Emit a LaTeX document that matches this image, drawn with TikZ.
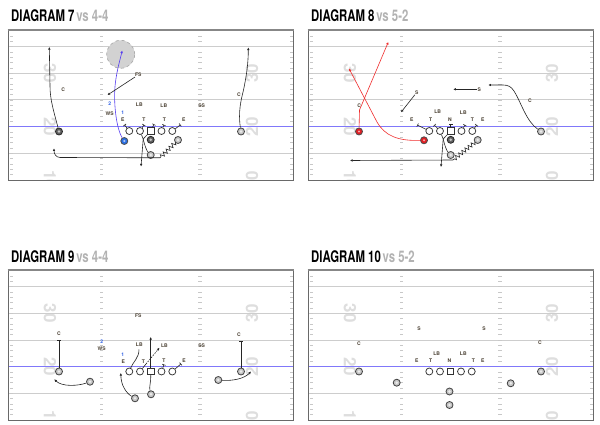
\documentclass[tikz,border=0pt]{standalone}
\usepackage{fontspec}
\setmainfont{TeX Gyre Heros}
\usetikzlibrary{arrows.meta,decorations.pathmorphing}
\definecolor{losc}{RGB}{128,120,250}
\definecolor{labc}{RGB}{72,62,48}
\definecolor{bluec}{RGB}{45,95,230}
\definecolor{bluepc}{RGB}{40,110,230}
\definecolor{redpc}{RGB}{225,30,35}
\definecolor{routered}{RGB}{240,45,45}
\definecolor{routeblue}{RGB}{85,60,240}
\definecolor{yardc}{RGB}{205,205,205}
\definecolor{numc}{RGB}{222,222,222}
\definecolor{framec}{RGB}{105,105,105}
\definecolor{tickc}{RGB}{200,200,200}
\newcommand\ttl[2]{\scalebox{0.71}[1]{\fontsize{16}{16}\selectfont\bfseries #1\hspace{2.5pt}\textcolor{gray!60}{#2}}}
\newcommand\fieldat[3]{%
\begin{scope}[shift={(#1,#2)}]
  \begin{scope}
    \clip (0,0) rectangle (285,150);
    \node[fieldnum, rotate=-90] (#3n30l) at (42,43.3) {30};
    \node[fieldnum, rotate=-90] (#3n20l) at (42,96.7) {20};
    \node[fieldnum, rotate=-90] (#3n10l) at (42,150) {10};
    \node[fieldnum, rotate=90] (#3n30r) at (244,43.3) {30};
    \node[fieldnum, rotate=90] (#3n20r) at (244,96.7) {20};
    \node[fieldnum, rotate=90] (#3n10r) at (244,150) {10};
  \end{scope}
  \foreach \yy in {16.667,43.333,70,123.333} {\draw[yard] (0,\yy) -- (285,\yy);}
  \foreach \j in {-3,...,24} {
    \pgfmathsetmacro\ty{16.667+5.3333*\j}
    \draw[tick] (2,\ty) -- (4.8,\ty);
    \draw[tick] (92,\ty) -- (95.3,\ty);
    \draw[tick] (190.3,\ty) -- (193.7,\ty);
    \draw[tick] (282,\ty) -- (284.7,\ty);
  }
  \draw[losline] (0,96.667) -- (285,96.667);
  \draw[framec, line width=0.9pt] (0,0) rectangle (285,150);
  \draw[framec!80, line width=1.8pt] (-0.5,0) -- (285.5,0);
\end{scope}}
\tikzset{
  fieldnum/.style={font=\fontsize{17}{17}\selectfont\bfseries, text=numc, inner sep=0pt},
  yard/.style={draw=yardc, line width=1pt},
  tick/.style={draw=tickc, line width=0.6pt},
  losline/.style={draw=losc, line width=1pt},
  lab/.style={font=\fontsize{5}{5}\selectfont\bfseries, text=labc, inner sep=0pt},
  blab/.style={lab, text=bluec},
  ol/.style={circle, draw=black!80, fill=white, line width=0.75pt, minimum size=7pt, inner sep=0pt},
  ctr/.style={rectangle, draw=black!80, fill=white, line width=0.75pt, minimum size=6.6pt, inner sep=0pt},
  back/.style={circle, draw=black!75, fill=gray!45, line width=0.8pt, minimum size=7pt, inner sep=0pt,
    path picture={\fill[gray!15] (path picture bounding box.center) circle (1.4pt);}},
  dark/.style={circle, draw=black!85, fill=black!62, line width=0.8pt, minimum size=7pt, inner sep=0pt,
    path picture={\fill[gray!45] (path picture bounding box.center) circle (1.4pt);}},
  bluep/.style={circle, draw=black!70, fill=bluepc, line width=0.8pt, minimum size=7pt, inner sep=0pt,
    path picture={\fill[bluepc!40] (path picture bounding box.center) circle (1.2pt);}},
  redp/.style={circle, draw=black!70, fill=redpc, line width=0.8pt, minimum size=7pt, inner sep=0pt,
    path picture={\fill[redpc!40] (path picture bounding box.center) circle (1.2pt);}},
  zone/.style={circle, minimum size=28pt, inner sep=0pt, draw=gray!65, dashed, fill=gray!35, line width=0.7pt},
  route/.style={draw=black!85, line width=0.6pt, -{Latex[length=2.6pt,width=2.6pt]}},
  rroute/.style={route, draw=routered, -{Latex[length=2.6pt,width=2.6pt,fill=routered]}},
  broute/.style={route, draw=routeblue},
  plain/.style={draw=black!85, line width=0.6pt},
  blk/.style={draw=black!85, line width=0.6pt, -{Bar[width=3.6pt,line width=0.6pt]}},
  zig/.style={draw=black!85, line width=0.6pt, decorate, decoration={zigzag, segment length=4pt, amplitude=2pt}},
  dashr/.style={route, dashed, dash pattern=on 1.5pt off 1.2pt},
}
\begin{document}
\begin{tikzpicture}[x=1pt,y=-1pt]
\useasboundingbox (0,0) rectangle (600,425);
\fill[white] (0,0) rectangle (600,425);
% titles
\node[anchor=base west, inner sep=0pt] (t7) at (11,22) {\ttl{DIAGRAM 7}{vs 4-4}};
\node[anchor=base west, inner sep=0pt] (t8) at (311,22) {\ttl{DIAGRAM 8}{vs 5-2}};
\node[anchor=base west, inner sep=0pt] (t9) at (11,262) {\ttl{DIAGRAM 9}{vs 4-4}};
\node[anchor=base west, inner sep=0pt] (t10) at (311,262) {\ttl{DIAGRAM 10}{vs 5-2}};
% fields
\fieldat{8}{30}{fa}
\fieldat{308}{30}{fb}
\fieldat{8}{270}{fc}
\fieldat{308}{270}{fd}

%================ DIAGRAM 7
\node[zone] (p1zone) at (120.7,54.3) {};
\node[ol] (p1lt) at (129.3,131) {};
\node[ol] (p1lg) at (140,131) {};
\node[ctr] (p1c) at (150.7,131) {};
\node[ol] (p1rg) at (161.5,131) {};
\node[ol] (p1rt) at (172.3,131) {};
\node[dark] (p1qb) at (150.7,139.8) {};
\node[back] (p1tb) at (150.7,155) {};
\node[back] (p1wb) at (178,140) {};
\node[bluep] (p1bl) at (124.3,141) {};
\node[dark] (p1wl) at (59,131.5) {};
\node[back] (p1wr) at (241,131.5) {};
\node[lab] (p1fs) at (138.3,75) {FS};
\node[lab] (p1cl) at (63.3,90) {C};
\node[blab] (p1n2) at (109.7,103.5) {2};
\node[lab] (p1ws) at (109.7,113.3) {WS};
\node[blab] (p1n1) at (122.7,112.5) {1};
\node[lab] (p1e1) at (122.7,119.5) {E};
\node[lab] (p1t1) at (144,119.5) {T};
\node[lab] (p1lb1) at (139.3,104.3) {LB};
\node[lab] (p1lb2) at (163.8,106) {LB};
\node[lab] (p1t2) at (164.3,119.5) {T};
\node[lab] (p1e2) at (183.7,119.5) {E};
\node[lab] (p1ss) at (201.7,106) {SS};
\node[lab] (p1cr) at (239,94.3) {C};
\coordinate (p1wle) at (49.3,47);
\coordinate (p1wre) at (248.3,47.5);
\coordinate (p1ble) at (122.2,50.5);
\coordinate (p1fse) at (107.5,95);
\coordinate (p1zz) at (160,157.8);
\coordinate (p1swe) at (54,148.3);
\coordinate (p1gk) at (143.2,139);
\coordinate (p1ge) at (141,166.5);
\coordinate (p1b1) at (124.5,124.8);
\coordinate (p1b2) at (144,124.8);
\coordinate (p1b3) at (154,124.3);
\coordinate (p1b4) at (164,124.8);
\coordinate (p1b5) at (180.5,124.8);
\draw[route] (p1wl) .. controls (54,112) and (50,100) .. (50,86) -- (p1wle);
\draw[route] (p1wr) .. controls (238,112) and (241,100) .. (243.5,90) .. controls (246,78) and (248.3,65) .. (p1wre);
\draw[broute] (p1bl) .. controls (116,128) and (113,100) .. (115.5,82) .. controls (117,70) and (120,60) .. (p1ble);
\draw[route] (p1fs.south west) -- (p1fse);
\draw[zig] (p1wb) -- (p1zz);
\draw[route] (p1zz) -- (60,157.5) .. controls (56,157.3) and (54,154) .. (p1swe);
\draw[route] (p1lg) -- (p1gk) -- (p1ge);
\draw[plain] (p1c) -- (p1gk) .. controls (145,147) and (147,151) .. (p1tb);
\draw[blk] (p1lt) -- (p1b1);
\draw[blk] (p1lg) -- (p1b2);
\draw[blk] (p1c) -- (p1b3);
\draw[blk] (p1rg) -- (p1b4);
\draw[blk] (p1rt) -- (p1b5);

%================ DIAGRAM 8
\node[ol] (p2lt) at (429.3,131) {};
\node[ol] (p2lg) at (440,131) {};
\node[ctr] (p2c) at (450.7,131) {};
\node[ol] (p2rg) at (461.5,131) {};
\node[ol] (p2rt) at (472.3,131) {};
\node[dark] (p2qb) at (450.7,139.8) {};
\node[back] (p2tb) at (450.7,155) {};
\node[back] (p2wb) at (477.7,140) {};
\node[redp] (p2rd) at (424,140.3) {};
\node[redp] (p2wl) at (359,131.5) {};
\node[back] (p2wr) at (541,131.5) {};
\node[lab] (p2lb1) at (437.7,111.7) {LB};
\node[lab] (p2lb2) at (463.3,112.7) {LB};
\node[lab] (p2e1) at (411.7,119.3) {E};
\node[lab] (p2t1) at (430.7,119.3) {T};
\node[lab] (p2n) at (450,119.3) {N};
\node[lab] (p2t2) at (472.3,119.3) {T};
\node[lab] (p2e2) at (482.7,119.3) {E};
\node[lab] (p2s1) at (416.7,92.7) {S};
\node[lab] (p2cl) at (359.3,106) {C};
\node[lab] (p2s2) at (479.3,89.3) {S};
\node[lab] (p2cr) at (530,101) {C};
\coordinate (p2r1k) at (359.5,110);
\coordinate (p2r1e) at (388.3,42);
\coordinate (p2r2k) at (377,122);
\coordinate (p2r2e) at (349,68.5);
\coordinate (p2s1e) at (401,112.3);
\coordinate (p2s2e) at (453.3,89.3);
\coordinate (p2ce) at (488.3,85);
\coordinate (p2zz) at (453,160);
\coordinate (p2swe) at (350,160.5);
\coordinate (p2gk) at (443.2,139);
\coordinate (p2ge) at (441,167);
\coordinate (p2b1) at (417.3,125);
\coordinate (p2b2) at (434.3,125);
\coordinate (p2b3) at (450.7,124.5);
\coordinate (p2b4) at (465,125);
\coordinate (p2b5) at (476.7,125);
\draw[rroute] (p2wl) -- (p2r1k) -- (p2r1e);
\draw[rroute] (p2rd) .. controls (398,141) and (385,136) .. (p2r2k) -- (p2r2e);
\draw[route] (p2s1.south west) -- (p2s1e);
\draw[route] (p2s2.west) -- (p2s2e);
\draw[route] (p2wr) .. controls (526,121) and (521,102) .. (514,91) .. controls (511,86.5) and (508,85) .. (503,85) -- (p2ce);
\draw[zig] (p2wb) -- (p2zz);
\draw[route] (p2zz) -- (p2swe);
\draw[route] (p2lg) -- (p2gk) -- (p2ge);
\draw[plain] (p2c) -- (p2gk) .. controls (445,147) and (447,151) .. (p2tb);
\draw[blk] (p2lt) -- (p2b1);
\draw[blk] (p2lg) -- (p2b2);
\draw[blk] (p2c) -- (p2b3);
\draw[blk] (p2rg) -- (p2b4);
\draw[blk] (p2rt) -- (p2b5);

%================ DIAGRAM 9
\node[ol] (p3lt) at (129.3,371.5) {};
\node[ol] (p3lg) at (140,371.5) {};
\node[ctr] (p3c) at (150.7,371.5) {};
\node[ol] (p3rg) at (161.5,371.5) {};
\node[ol] (p3rt) at (172.3,371.5) {};
\node[back] (p3b1) at (135,398.3) {};
\node[back] (p3tb) at (151,394.3) {};
\node[back] (p3wl) at (59,371.5) {};
\node[back] (p3sl) at (90,381.7) {};
\node[back] (p3wr) at (241,371.5) {};
\node[back] (p3sr) at (218.3,380) {};
\node[lab] (p3cl) at (59,333.3) {C};
\node[lab] (p3fs) at (138.3,315.7) {FS};
\node[blab] (p3n2) at (101.7,341.7) {2};
\node[lab] (p3ws) at (101.7,348.3) {WS};
\node[blab] (p3n1) at (122.7,354.3) {1};
\node[lab] (p3e1) at (123.3,361.5) {E};
\node[lab] (p3lb1) at (139.3,345) {LB};
\node[lab] (p3t1) at (143.5,361.3) {T};
\node[lab] (p3lb2) at (164.5,346) {LB};
\node[lab] (p3t2) at (164,360.7) {T};
\node[lab] (p3e2) at (184,361) {E};
\node[lab] (p3ss) at (201.7,346) {SS};
\node[lab] (p3cr) at (239,334.3) {C};
\coordinate (p3wlb) at (59,340);
\coordinate (p3sle) at (54.3,379.3);
\coordinate (p3wrb) at (241,341);
\coordinate (p3sre) at (251,371.5);
\coordinate (p3ce) at (150.7,337);
\coordinate (p3ds) at (146,364);
\coordinate (p3de) at (159.5,347.8);
\coordinate (p3rgb) at (164,364.5);
\coordinate (p3rtb) at (181,363.8);
\coordinate (p3lte) at (139,349.5);
\coordinate (p3b1e) at (120.8,373);
\draw[blk] (p3wl) -- (p3wlb);
\draw[route] (p3sl) .. controls (78,386) and (62,387) .. (p3sle);
\draw[blk] (p3wr) -- (p3wrb);
\draw[route] (p3sr) .. controls (232,381) and (244,379) .. (p3sre);
\draw[route] (p3c) -- (p3ce);
\draw[plain] (p3lg) -- (p3ds);
\draw[dashr] (p3ds) -- (p3de);
\draw[blk] (p3rg) -- (p3rgb);
\draw[blk] (p3rt) -- (p3rtb);
\draw[plain] (p3lt) .. controls (133,362) and (139,358) .. (p3lte);
\draw[route] (p3b1) .. controls (126,393) and (121,385) .. (p3b1e);
\draw[plain] (p3c) .. controls (151,382) and (149,387) .. (p3tb);

%================ DIAGRAM 10
\node[ol] (p4lt) at (429.3,371.5) {};
\node[ol] (p4lg) at (440,371.5) {};
\node[ctr] (p4c) at (450.5,371.5) {};
\node[ol] (p4rg) at (461,371.5) {};
\node[ol] (p4rt) at (471.7,371.5) {};
\node[back] (p4qb) at (449.5,391.5) {};
\node[back] (p4tb) at (449.5,405) {};
\node[back] (p4wl) at (359,371.5) {};
\node[back] (p4sl) at (396.7,382.7) {};
\node[back] (p4wr) at (541,371.5) {};
\node[back] (p4sr) at (510.7,383.3) {};
\node[lab] (p4cl) at (359,344) {C};
\node[lab] (p4s1) at (419,328.3) {S};
\node[lab] (p4lb1) at (436.7,353.3) {LB};
\node[lab] (p4e1) at (416.7,361) {E};
\node[lab] (p4t1) at (430.7,361) {T};
\node[lab] (p4n) at (449.5,361) {N};
\node[lab] (p4lb2) at (463.3,353.3) {LB};
\node[lab] (p4t2) at (473.3,361) {T};
\node[lab] (p4e2) at (482.7,361) {E};
\node[lab] (p4s2) at (484,328.3) {S};
\node[lab] (p4cr) at (540,342.3) {C};
\end{tikzpicture}
\end{document}
